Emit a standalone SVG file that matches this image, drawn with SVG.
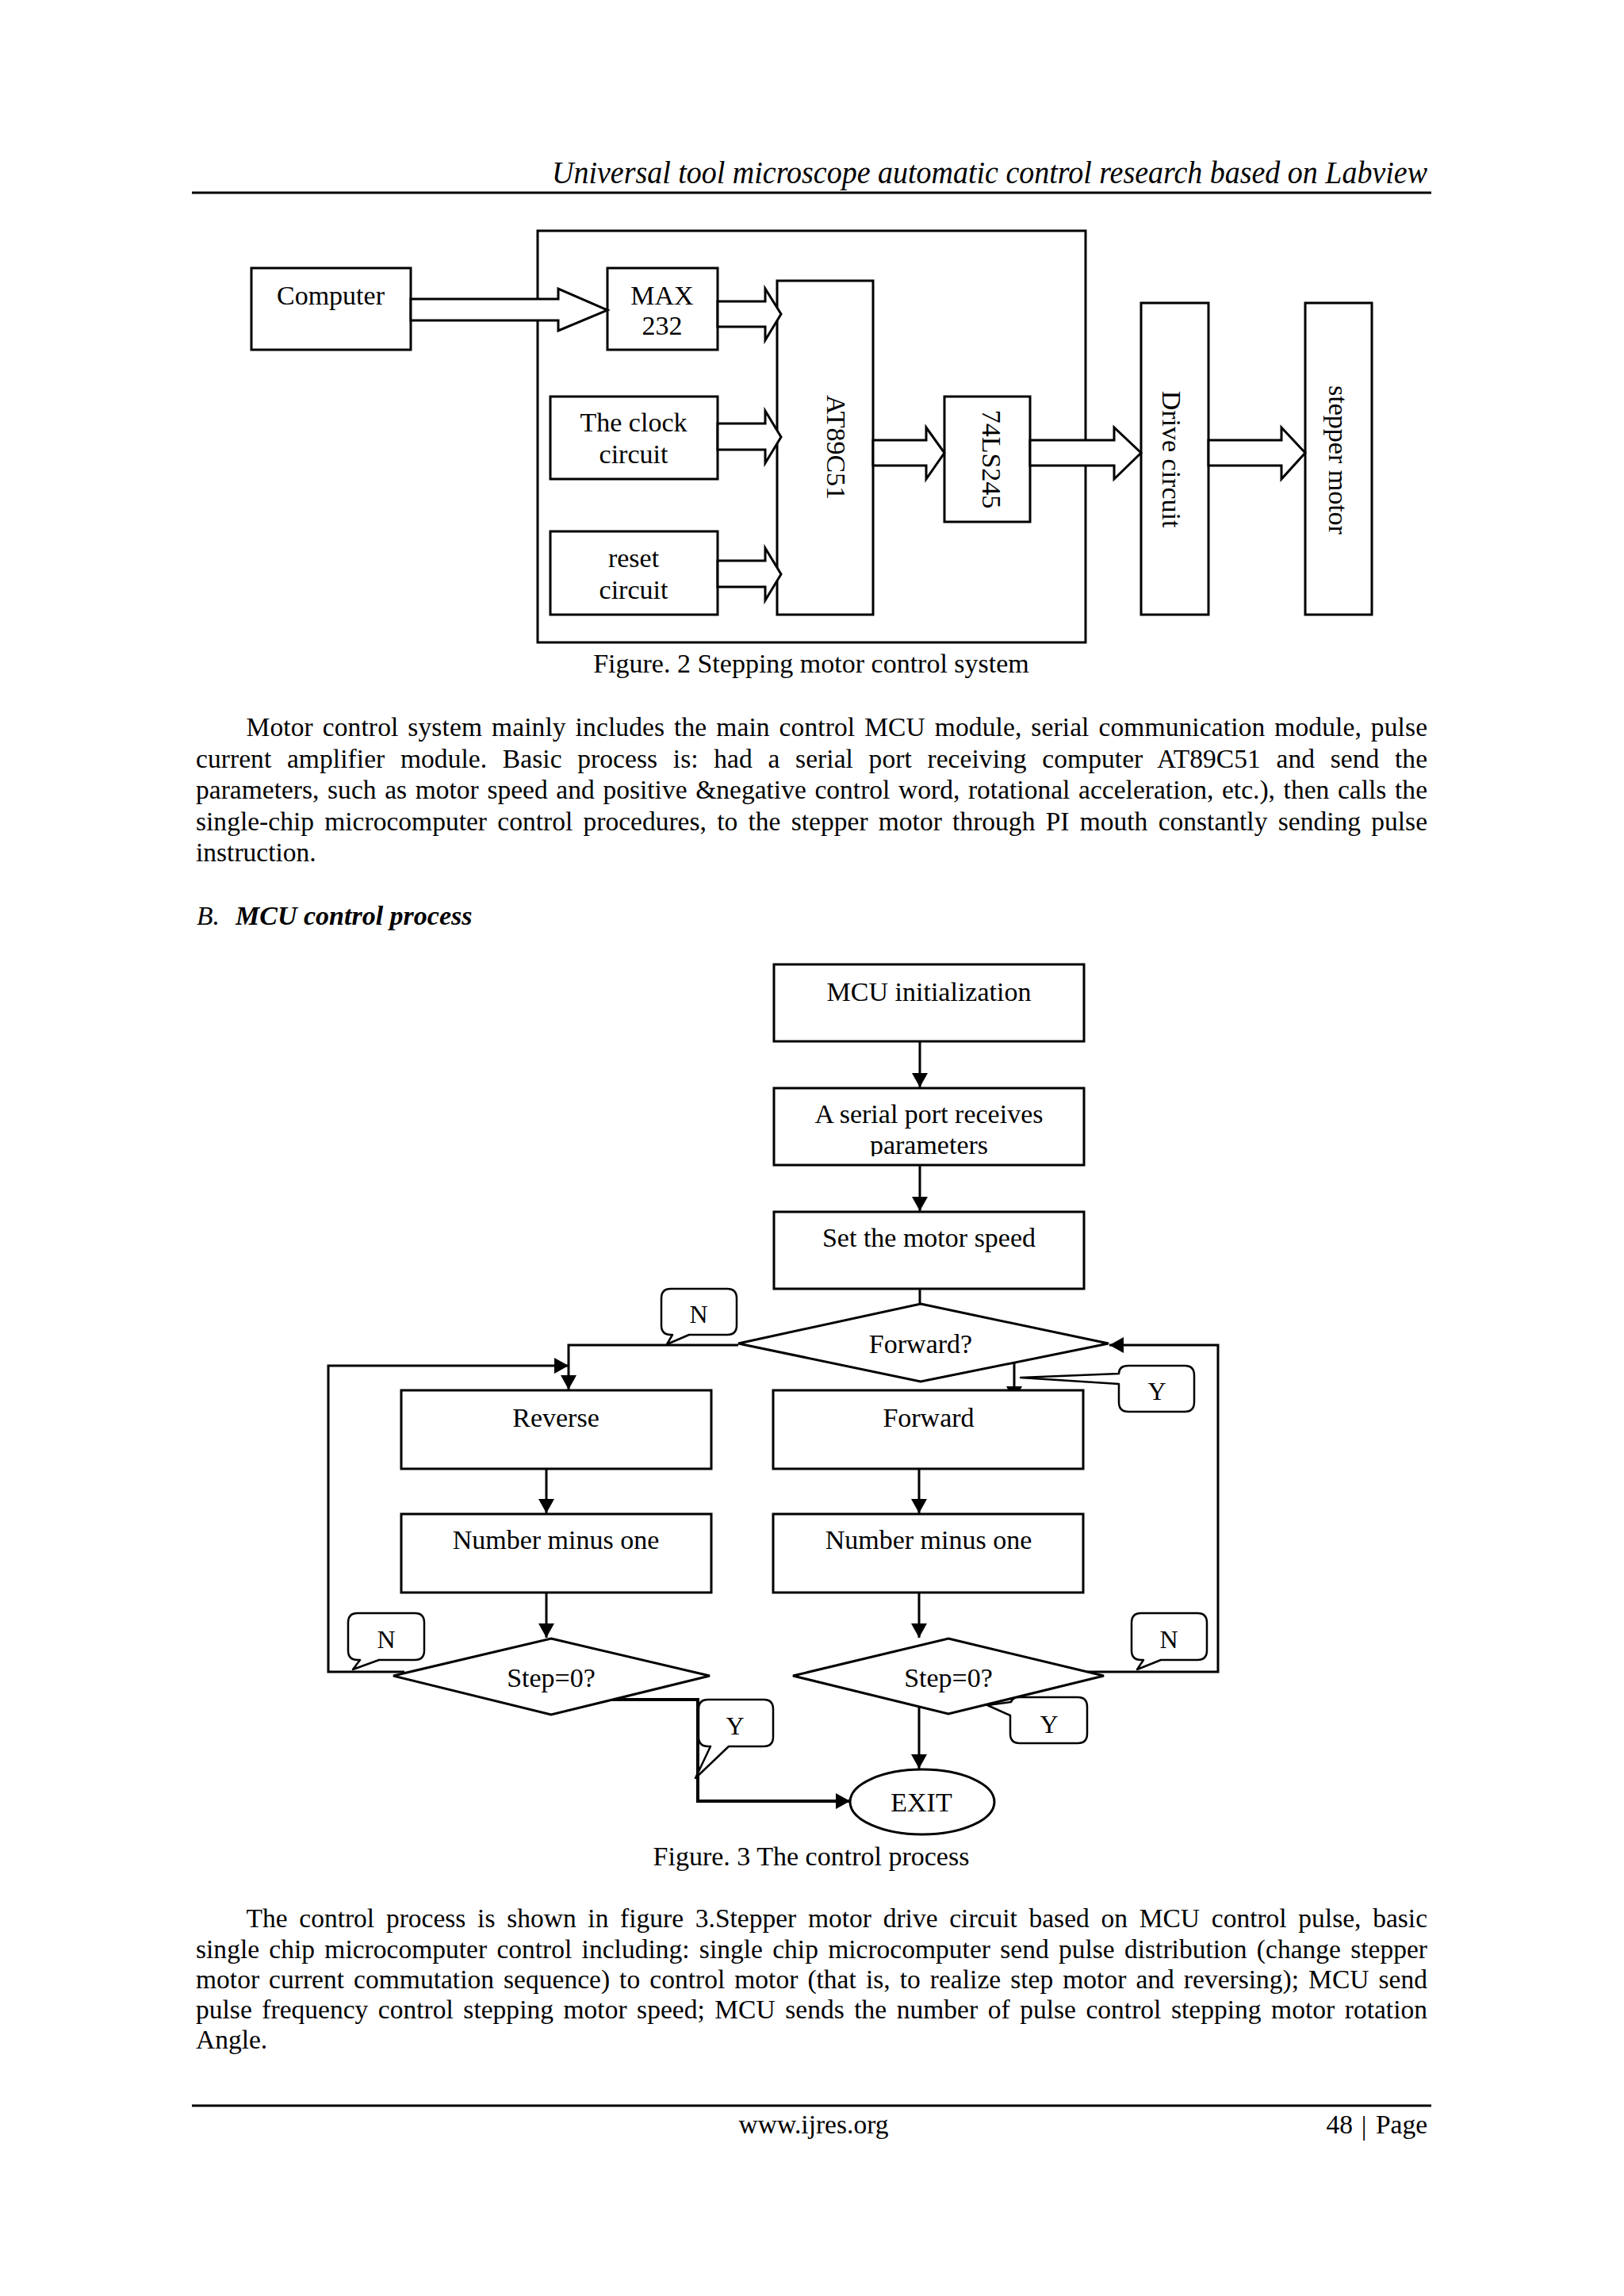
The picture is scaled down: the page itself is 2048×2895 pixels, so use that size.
<svg xmlns="http://www.w3.org/2000/svg" width="2048" height="2895" viewBox="0 0 2048 2895">
<style>
.t{font-family:"Liberation Serif","Times New Roman",serif;font-size:34px;fill:#000}
.b{font-family:"Liberation Serif","Times New Roman",serif;font-size:33.5px;fill:#000}
.hd{font-family:"Liberation Serif","Times New Roman",serif;font-size:40px;font-style:italic;fill:#000}
.c{text-anchor:middle}
.box{fill:#fff;stroke:#000;stroke-width:3}
.ln{fill:none;stroke:#000;stroke-width:3}
.blk{fill:#fff;stroke:#000;stroke-width:3;stroke-linejoin:miter}
.co{fill:#fff;stroke:#000;stroke-width:2.5;stroke-linejoin:round}
.lbl{font-family:"Liberation Serif","Times New Roman",serif;font-size:32px;fill:#000;text-anchor:middle}
</style>
<defs>
<marker id="ah" viewBox="0 0 18 20" refX="18" refY="10" markerWidth="18" markerHeight="20" markerUnits="userSpaceOnUse" orient="auto">
<path d="M0,0 L18,10 L0,20 Z" fill="#000"/>
</marker>
<clipPath id="clipSerial"><rect x="976" y="1372" width="391" height="86"/></clipPath>
</defs>
<rect width="2048" height="2895" fill="#fff"/>

<!-- page header -->
<text class="hd" x="696" y="231" textLength="1104" lengthAdjust="spacingAndGlyphs">Universal tool microscope automatic control research based on Labview</text>
<line x1="242" y1="243" x2="1805" y2="243" stroke="#000" stroke-width="3"/>

<!-- Figure 2 -->
<g id="fig2-frame"><rect x="678" y="291" width="691" height="519" fill="none" stroke="#000" stroke-width="3"/></g>
<g id="computer"><rect class="box" x="317" y="338" width="201" height="103"/><text class="t c" x="417" y="384">Computer</text></g>
<g id="max232"><rect class="box" x="766" y="338" width="139" height="103"/><text class="t c" x="835" y="384">MAX</text><text class="t c" x="835" y="422">232</text></g>
<g id="clock"><rect class="box" x="694" y="500" width="211" height="104"/><text class="t c" x="799" y="544">The clock</text><text class="t c" x="799" y="584">circuit</text></g>
<g id="reset"><rect class="box" x="694" y="670" width="211" height="105"/><text class="t c" x="799" y="715">reset</text><text class="t c" x="799" y="755">circuit</text></g>
<g id="at89c51"><rect class="box" x="980" y="354" width="121" height="421"/><text class="t c" transform="translate(1043,564) rotate(90)">AT89C51</text></g>
<g id="ls245"><rect class="box" x="1191" y="500" width="108" height="158"/><text class="t c" transform="translate(1239,579) rotate(90)">74LS245</text></g>
<g id="drive"><rect class="box" x="1439" y="382" width="85" height="393"/><text class="t c" transform="translate(1466,579) rotate(90)">Drive circuit</text></g>
<g id="stepper"><rect class="box" x="1646" y="382" width="84" height="393"/><text class="t c" transform="translate(1676,580) rotate(90)">stepper motor</text></g>

<g id="connectors-fig2">
<polygon class="blk" points="518,377 704,377 704,364 766,391 704,417 704,404 518,404"/>
<polygon class="blk" points="905,380 965,380 965,364 985,396 965,429 965,412 905,412"/>
<polygon class="blk" points="905,534 965,534 965,518 985,551 965,584 965,567 905,567"/>
<polygon class="blk" points="905,707 965,707 965,691 985,724 965,757 965,740 905,740"/>
<polygon class="blk" points="1101,555 1168,555 1168,539 1191,571 1168,604 1168,587 1101,587"/>
<polygon class="blk" points="1299,555 1405,555 1405,539 1439,571 1405,604 1405,587 1299,587"/>
<polygon class="blk" points="1524,555 1616,555 1616,539 1646,571 1616,604 1616,587 1524,587"/>
</g>
<text class="t c" x="1023" y="848">Figure. 2 Stepping motor control system</text>

<!-- paragraph 1 -->
<text class="b" x="310.5" y="928" word-spacing="3.37" textLength="1489.5" lengthAdjust="spacing">Motor control system mainly includes the main control MCU module, serial communication module, pulse</text>
<text class="b" x="247" y="968" word-spacing="11.2" textLength="1553" lengthAdjust="spacing">current amplifier module. Basic process is: had a serial port receiving computer AT89C51 and send the</text>
<text class="b" x="247" y="1007" word-spacing="2.24" textLength="1553" lengthAdjust="spacing">parameters, such as motor speed and positive &amp;negative control word, rotational acceleration, etc.), then calls the</text>
<text class="b" x="247" y="1047" word-spacing="4.87" textLength="1553" lengthAdjust="spacing">single-chip microcomputer control procedures, to the stepper motor through PI mouth constantly sending pulse</text>
<text class="b" x="247" y="1086">instruction.</text>

<text class="b" x="248" y="1166" style="font-style:italic">B.</text>
<text class="b" x="297" y="1166" style="font-style:italic;font-weight:bold;font-size:34px">MCU control process</text>

<!-- Figure 3 flowchart -->
<g id="connectors">
<line class="ln" x1="1160" y1="1313" x2="1160" y2="1371" marker-end="url(#ah)"/>
<line class="ln" x1="1160" y1="1469" x2="1160" y2="1527" marker-end="url(#ah)"/>
<line class="ln" x1="1160" y1="1625" x2="1160" y2="1645"/>
<path class="ln" d="M931,1696 H717 V1752" marker-end="url(#ah)"/>
<path class="ln" d="M1279,1718 V1766" marker-end="url(#ah)"/>
<path class="ln" d="M510,2108 H414 V1722 H717" marker-end="url(#ah)"/>
<path class="ln" d="M1371,2108 H1536 V1696 H1399" marker-end="url(#ah)"/>
<line class="ln" x1="689" y1="1852" x2="689" y2="1908" marker-end="url(#ah)"/>
<line class="ln" x1="1159" y1="1852" x2="1159" y2="1908" marker-end="url(#ah)"/>
<line class="ln" x1="689" y1="2008" x2="689" y2="2065" marker-end="url(#ah)"/>
<line class="ln" x1="1159" y1="2008" x2="1159" y2="2065" marker-end="url(#ah)"/>
<path class="ln" d="M770,2143 H880 V2271 H1072" style="stroke-width:4" marker-end="url(#ah)"/>
<line class="ln" x1="1159" y1="2152" x2="1159" y2="2230" marker-end="url(#ah)"/>
</g>

<g id="mcu-init"><rect class="box" x="976" y="1216" width="391" height="97"/><text class="t c" x="1171.5" y="1262">MCU initialization</text></g>
<g id="serial"><rect class="box" x="976" y="1372" width="391" height="97"/><text class="t c" x="1171.5" y="1416">A serial port receives</text><text class="t c" x="1171.5" y="1455" clip-path="url(#clipSerial)">parameters</text></g>
<g id="set-speed"><rect class="box" x="976" y="1528" width="391" height="97"/><text class="t c" x="1171.5" y="1572">Set the motor speed</text></g>
<g id="forward-q"><polygon class="box" points="1161,1644 1398,1694 1161,1742 931,1694"/><text class="t c" x="1161" y="1706">Forward?</text></g>
<g id="reverse"><rect class="box" x="506" y="1753" width="391" height="99"/><text class="t c" x="701" y="1799">Reverse</text></g>
<g id="forward"><rect class="box" x="975" y="1753" width="391" height="99"/><text class="t c" x="1171" y="1799">Forward</text></g>
<g id="minus-left"><rect class="box" x="506" y="1909" width="391" height="99"/><text class="t c" x="701" y="1953">Number minus one</text></g>
<g id="minus-right"><rect class="box" x="975" y="1909" width="391" height="99"/><text class="t c" x="1171" y="1953">Number minus one</text></g>
<g id="step-left"><polygon class="box" points="695,2066 895,2113 695,2162 496,2113"/><text class="t c" x="695" y="2127">Step=0?</text></g>
<g id="step-right"><polygon class="box" points="1196,2066 1392,2113 1196,2161 1000,2113"/><text class="t c" x="1196" y="2127">Step=0?</text></g>
<g id="exit"><ellipse class="box" cx="1163" cy="2272" rx="91" ry="41"/><text class="t c" x="1162" y="2284">EXIT</text></g>

<g id="callout-n1"><path class="co" d="M846,1625 H917 Q929,1625 929,1637 V1671 Q929,1683 917,1683 H869 L841,1695 L848,1683 H846 Q834,1683 834,1671 V1637 Q834,1625 846,1625 Z"/><text class="lbl" x="881" y="1668">N</text></g>
<g id="callout-y1"><path class="co" d="M1423,1722 H1494 Q1506,1722 1506,1734 V1768 Q1506,1780 1494,1780 H1423 Q1411,1780 1411,1768 V1745 L1287,1737 L1411,1732 Q1411,1722 1423,1722 Z"/><text class="lbl" x="1459" y="1765">Y</text></g>
<g id="callout-n2"><path class="co" d="M451,2034 H523 Q535,2034 535,2046 V2081 Q535,2093 523,2093 H478 L445,2105 L454,2093 H451 Q439,2093 439,2081 V2046 Q439,2034 451,2034 Z"/><text class="lbl" x="487" y="2078">N</text></g>
<g id="callout-n3"><path class="co" d="M1439,2034 H1510 Q1522,2034 1522,2046 V2081 Q1522,2093 1510,2093 H1464 L1434,2105 L1442,2093 H1439 Q1427,2093 1427,2081 V2046 Q1427,2034 1439,2034 Z"/><text class="lbl" x="1474" y="2078">N</text></g>
<g id="callout-y2"><path class="co" d="M893,2143 H963 Q975,2143 975,2155 V2190 Q975,2202 963,2202 H919 L877,2242 L896,2202 H893 Q881,2202 881,2190 V2155 Q881,2143 893,2143 Z"/><text class="lbl" x="927" y="2187">Y</text></g>
<g id="callout-y3"><path class="co" d="M1286,2140 H1359 Q1371,2140 1371,2152 V2186 Q1371,2198 1359,2198 H1286 Q1274,2198 1274,2186 V2163 L1245,2150 L1275,2146 Q1277,2140 1286,2140 Z"/><text class="lbl" x="1323" y="2185">Y</text></g>

<text class="t c" x="1023" y="2352">Figure. 3 The control process</text>

<!-- paragraph 2 -->
<text class="b" x="310.5" y="2430" word-spacing="6.33" textLength="1489.5" lengthAdjust="spacing">The control process is shown in figure 3.Stepper motor drive circuit based on MCU control pulse, basic</text>
<text class="b" x="247" y="2469" word-spacing="3.88" textLength="1553" lengthAdjust="spacing">single chip microcomputer control including: single chip microcomputer send pulse distribution (change stepper</text>
<text class="b" x="247" y="2507" word-spacing="3.67" textLength="1553" lengthAdjust="spacing">motor current commutation sequence) to control motor (that is, to realize step motor and reversing); MCU send</text>
<text class="b" x="247" y="2545" word-spacing="4.15" textLength="1553" lengthAdjust="spacing">pulse frequency control stepping motor speed; MCU sends the number of pulse control stepping motor rotation</text>
<text class="b" x="247" y="2583">Angle.</text>

<!-- footer -->
<line x1="242" y1="2655" x2="1805" y2="2655" stroke="#000" stroke-width="3"/>
<text class="b c" x="1026" y="2690">www.ijres.org</text>
<text class="b" x="1706" y="2690" text-anchor="end">48</text>
<text class="b c" x="1720" y="2692">|</text>
<text class="b" x="1800" y="2690" text-anchor="end">Page</text>
</svg>
